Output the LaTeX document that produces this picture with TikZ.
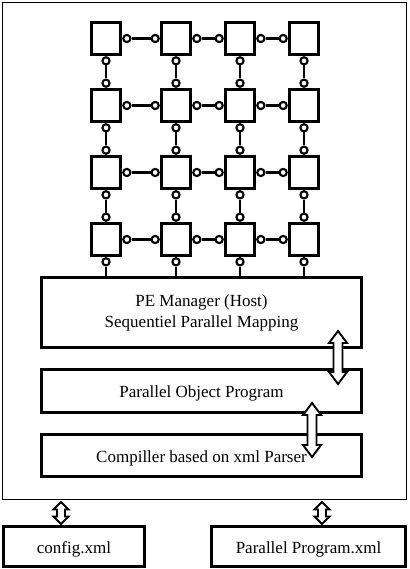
\documentclass[tikz,border=0pt]{standalone}
\usepackage{fontspec}
\setmainfont{Liberation Serif}
\usetikzlibrary{calc}
\newcommand\mydblarrow[6]{% x, y top, y bottom, half shaft, half head, head length
  \draw[blockarrow] (#1,#2) -- (#1+#5,#2+#6) -- (#1+#4,#2+#6) -- (#1+#4,#3-#6)
    -- (#1+#5,#3-#6) -- (#1,#3) -- (#1-#5,#3-#6) -- (#1-#4,#3-#6)
    -- (#1-#4,#2+#6) -- (#1-#5,#2+#6) -- cycle;}
\begin{document}
\begin{tikzpicture}[x=1bp,y=-1bp,
 pe/.style={draw,line width=2.3bp,minimum width=29bp,minimum height=32bp,inner sep=0pt},
 port/.style={draw,circle,fill=white,line width=2.1bp,minimum size=7.2bp,inner sep=0pt},
 link/.style={line width=2.2bp},
 box/.style={draw,line width=2.2bp,inner sep=0pt,font=\fontsize{17bp}{21bp}\selectfont},
 onel/.style={text height=13.5bp,text depth=0pt},
 blockarrow/.style={draw,fill=white,line width=1.9bp}
]
\useasboundingbox (0,0) rectangle (409,569);
% frames
\node[draw,line width=1.7bp,minimum width=404bp,minimum height=497bp,inner sep=0pt] (sys) at (204.5,251) {};
\node[box,align=center,minimum width=320bp,minimum height=70bp] (man) at (201.5,312.5)
  {PE Manager (Host)\\Sequentiel Parallel Mapping};
\node[box,onel,minimum width=320bp,minimum height=43bp] (pobj) at (201.5,391) {Parallel Object Program};
\node[box,onel,minimum width=320bp,minimum height=42bp] (comp) at (201.5,455.5) {Compiller based on xml Parser};
\node[box,onel,minimum width=141bp,minimum height=40bp] (cfg) at (74,546.5) {config.xml};
\node[box,onel,minimum width=194bp,minimum height=40bp] (ppx) at (308.5,546.5) {Parallel Program.xml};
% PE grid
\foreach \c/\x in {1/106,2/176,3/240,4/304}{
  \foreach \r/\y in {1/38.5,2/105.5,3/172.5,4/239.5}{
    \node[pe] (p\r\c) at (\x,\y) {};
    \node[port] (p\r\c b) at ([yshift=-5.2bp]p\r\c.south) {};
  }
}
\foreach \c in {1,2,3,4}{
  \foreach \r in {2,3,4}{
    \node[port] (p\r\c t) at ([yshift=5.2bp]p\r\c.north) {};
  }
}
\foreach \r in {1,2,3,4}{
  \foreach \c in {1,2,3}{
    \node[port] (p\r\c r) at ([xshift=5.2bp]p\r\c.east) {};
  }
  \foreach \c in {2,3,4}{
    \node[port] (p\r\c l) at ([xshift=-5.2bp]p\r\c.west) {};
  }
}
% links
\foreach \r in {1,2,3,4}{
  \foreach \c [evaluate=\c as \n using int(\c+1)] in {1,2,3}{
    \draw[link] (p\r\c r) -- (p\r\n l);
  }
}
\foreach \c in {1,2,3,4}{
  \foreach \r [evaluate=\r as \n using int(\r+1)] in {1,2,3}{
    \draw[link] (p\r\c b) -- (p\n\c t);
  }
  \draw[link] (p4\c b) -- (p4\c b |- man.north);
}
% block arrows
\mydblarrow{338}{331}{384}{4.5}{9}{12}
\mydblarrow{312}{403}{457}{4.5}{9}{12}
\mydblarrow{61}{502}{524}{4}{7.5}{7.5}
\mydblarrow{322}{502}{524}{4}{7.5}{7.5}
\end{tikzpicture}
\end{document}
